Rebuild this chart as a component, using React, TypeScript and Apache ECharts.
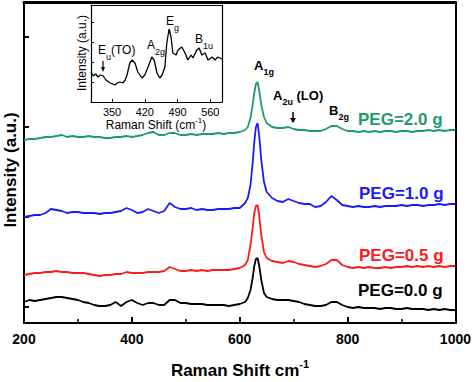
import React, { useEffect, useRef } from "react";
import * as echarts from "echarts";

const FONT = "Liberation Sans, Arial, sans-serif";

// Raman shift (cm-1) sample positions of the main spectra
const ramanShift = [
  200, 210, 220, 230, 240, 250, 260, 270, 280, 290, 300, 310, 320, 330, 340, 350, 360, 370, 380, 390, 400,
  410, 420, 430, 440, 450, 460, 470, 480, 490, 500, 510, 520, 530, 540, 550, 560, 570, 580, 590, 600,
  610, 615, 620, 624, 627, 630, 633, 636, 640, 645, 650,
  660, 670, 680, 690, 700, 710, 720, 730, 740, 750, 760, 770, 780, 790, 800, 810, 820, 830, 840, 850,
  860, 870, 880, 890, 900, 910, 920, 930, 940, 950, 960, 970, 980, 990, 1000,
];

// Intensities (a.u., stacked with offsets as in the figure)
const peg00 = [
  21, 23, 22, 23, 24, 25, 26, 26, 25, 24, 23, 21, 20, 18, 17, 17, 18, 21, 17, 21, 23,
  20, 18, 20, 20, 18, 18, 23, 23, 20, 20, 19, 19, 19, 18, 18, 18, 18, 17, 18, 19,
  21, 25, 33, 45, 57, 64, 65, 58, 43, 30, 26,
  24, 23, 23, 23, 22, 21, 19, 18, 17, 17, 18, 21, 21, 18, 16, 15, 16, 15, 15, 15,
  14, 15, 15, 14, 14, 15, 14, 14, 14, 13, 14, 13, 14, 13, 13,
];
const peg05 = [
  48, 49, 50, 50, 51, 51, 52, 51, 51, 50, 50, 50, 49, 48, 47, 48, 48, 49, 49, 51, 50,
  50, 50, 51, 51, 51, 52, 56, 54, 52, 52, 53, 52, 53, 52, 53, 53, 53, 53, 54, 55,
  58, 63, 78, 95, 110, 117, 118, 108, 88, 71, 65,
  62, 61, 60, 62, 61, 59, 58, 57, 56, 57, 59, 63, 63, 58, 56, 55, 56, 55, 56, 55,
  55, 56, 55, 56, 56, 57, 56, 57, 56, 57, 56, 57, 56, 57, 57,
];
const peg10 = [
  106, 107, 108, 108, 110, 114, 113, 112, 110, 111, 111, 110, 110, 110, 109, 110, 110, 111, 112, 115, 113,
  110, 111, 114, 112, 110, 112, 120, 116, 114, 114, 115, 113, 114, 113, 113, 114, 114, 114, 115, 115,
  120, 125, 138, 160, 181, 196, 200, 188, 163, 141, 131,
  125, 122, 121, 124, 122, 120, 119, 119, 116, 117, 121, 127, 123, 118, 117, 116, 117, 116, 116, 117,
  116, 117, 117, 117, 118, 117, 118, 118, 117, 118, 118, 119, 118, 119, 119,
];
const peg20 = [
  183, 184, 184, 185, 186, 186, 187, 188, 186, 187, 186, 186, 187, 186, 186, 185, 185, 186, 186, 187, 186,
  187, 188, 190, 191, 188, 188, 190, 190, 188, 188, 189, 188, 189, 189, 189, 190, 189, 190, 190, 191,
  193, 196, 205, 218, 230, 239, 241, 233, 218, 206, 200,
  196, 195, 195, 196, 194, 193, 193, 192, 192, 192, 194, 197, 197, 194, 192, 192, 191, 192, 191, 192,
  191, 192, 192, 191, 192, 192, 191, 192, 192, 193, 192, 193, 192, 193, 193,
];

const seriesNames = ["PEG=0.0 g", "PEG=0.5 g", "PEG=1.0 g", "PEG=2.0 g"];
const seriesColors = ["#000000", "#ff1a1a", "#1a1aff", "#1f9a6b"];

const mainTicks = [200, 400, 600, 800, 1000];
const mainYTicks = [16, 106, 196, 286];

// Inset spectrum
const insetShift = [
  305, 310, 315, 320, 325, 331, 337, 346, 356, 361, 367, 373, 378, 382, 388, 393, 399, 405, 414, 420,
  427, 435, 440, 446, 452, 457, 463, 467, 472, 476, 480, 487, 491, 499, 506, 512, 519, 523, 531, 536,
  542, 549, 555, 564, 570, 576, 585,
];
const insetIntensity = [
  30, 26, 28, 25, 27, 26, 22, 19, 17, 19, 20, 19, 22, 27, 39, 42, 39, 30, 24, 27,
  35, 45, 42, 29, 24, 27, 35, 59, 73, 65, 49, 47, 52, 55, 49, 42, 47, 44, 52, 54,
  47, 49, 42, 45, 42, 45, 43,
];
const insetTicks = [350, 420, 490, 560];
const insetYTicks = [20, 40, 60, 80];

export default function App() {
  const ref = useRef<HTMLDivElement>(null);

  useEffect(() => {
    const chart = echarts.init(ref.current!, null, { renderer: "svg" });
    const mainData = [peg00, peg05, peg10, peg20];

    const boldRich = (size: number, subSize: number, pad: number) => ({
      m: { fontSize: size, fontWeight: "bold", fontFamily: FONT, fill: "#000" },
      s: { fontSize: subSize, fontWeight: "bold", fontFamily: FONT, fill: "#000", padding: [pad, 0, 0, 0] },
    });
    const normRich = (size: number, subSize: number, pad: number) => ({
      m: { fontSize: size, fontFamily: FONT, fill: "#000" },
      s: { fontSize: subSize, fontFamily: FONT, fill: "#000", padding: [pad, 0, 0, 0] },
    });

    const txt = (x: number, y: number, text: string, rich: any) => ({
      type: "text",
      x,
      y,
      style: { text, rich, align: "left", verticalAlign: "middle" },
    });

    const option: any = {
      animation: false,
      grid: [
        { left: 24, top: 2, width: 434, height: 321 },
        { left: 91, top: 5, width: 131, height: 97 },
      ],
      xAxis: [
        {
          type: "value",
          gridIndex: 0,
          position: "bottom",
          min: mainTicks[0],
          max: mainTicks[mainTicks.length - 1],
          interval: 200,
          axisLine: { onZero: false, lineStyle: { color: "#000", width: 2 } },
          axisTick: { inside: true, length: 6, lineStyle: { color: "#000", width: 2 } },
          minorTick: { show: true, splitNumber: 2, length: 4, lineStyle: { color: "#000", width: 1.5 } },
          axisLabel: {
            fontSize: 14,
            fontWeight: "bold",
            color: "#000",
            margin: 9,
            fontFamily: FONT,
            formatter: (v: number) => String(v),
          },
          splitLine: { show: false },
        },
        {
          type: "value",
          gridIndex: 0,
          position: "top",
          min: 200,
          max: 1000,
          axisLine: { onZero: false, lineStyle: { color: "#000", width: 3 } },
          axisTick: { show: false },
          axisLabel: { show: false },
          splitLine: { show: false },
        },
        {
          type: "value",
          gridIndex: 1,
          position: "bottom",
          min: 305,
          max: 585,
          axisLine: { onZero: false, lineStyle: { color: "#000", width: 1.2 } },
          axisTick: { inside: true, length: 3, customValues: insetTicks, lineStyle: { color: "#000" } },
          axisLabel: { customValues: insetTicks, fontSize: 11, color: "#000", margin: 4, fontFamily: FONT },
          splitLine: { show: false },
        },
        {
          type: "value",
          gridIndex: 1,
          position: "top",
          min: 305,
          max: 585,
          axisLine: { onZero: false, lineStyle: { color: "#000", width: 1.2 } },
          axisTick: { show: false },
          axisLabel: { show: false },
          splitLine: { show: false },
        },
      ],
      yAxis: [
        {
          type: "value",
          gridIndex: 0,
          position: "left",
          min: 0,
          max: 321,
          axisLine: { show: true, onZero: false, lineStyle: { color: "#000", width: 2 } },
          axisTick: { show: true, inside: true, length: 5, customValues: mainYTicks, lineStyle: { color: "#000", width: 2 } },
          axisLabel: { show: false },
          splitLine: { show: false },
        },
        {
          type: "value",
          gridIndex: 0,
          position: "right",
          min: 0,
          max: 321,
          axisLine: { show: true, onZero: false, lineStyle: { color: "#000", width: 2 } },
          axisTick: { show: false },
          axisLabel: { show: false },
          splitLine: { show: false },
        },
        {
          type: "value",
          gridIndex: 1,
          position: "left",
          min: 0,
          max: 97,
          axisLine: { show: true, onZero: false, lineStyle: { color: "#000", width: 1.2 } },
          axisTick: { show: true, inside: true, length: 3, customValues: insetYTicks, lineStyle: { color: "#000" } },
          axisLabel: { show: false },
          splitLine: { show: false },
        },
        {
          type: "value",
          gridIndex: 1,
          position: "right",
          min: 0,
          max: 97,
          axisLine: { show: true, onZero: false, lineStyle: { color: "#000", width: 1.2 } },
          axisTick: { show: false },
          axisLabel: { show: false },
          splitLine: { show: false },
        },
      ],
      series: [
        ...mainData.map((arr, k) => ({
          name: seriesNames[k],
          type: "line",
          xAxisIndex: 0,
          yAxisIndex: 0,
          showSymbol: false,
          symbol: "none",
          lineStyle: { color: seriesColors[k], width: 1.8 },
          data: ramanShift.map((x, i) => [x, arr[i]]),
        })),
        {
          name: "inset",
          type: "line",
          xAxisIndex: 2,
          yAxisIndex: 2,
          showSymbol: false,
          symbol: "none",
          lineStyle: { color: "#000", width: 1.3 },
          data: insetShift.map((x, i) => [x, insetIntensity[i]]),
        },
      ],
      graphic: [
        {
          type: "text",
          x: 10,
          y: 170,
          rotation: Math.PI / 2,
          style: { text: "Intensity (a.u.)", font: `bold 17px ${FONT}`, fill: "#000", align: "center", verticalAlign: "middle" },
        },
        {
          type: "text",
          x: 240,
          y: 370,
          style: {
            text: "{a|Raman Shift cm}{s|-1}",
            rich: {
              a: { fontSize: 17, fontWeight: "bold", fontFamily: FONT, fill: "#000" },
              s: { fontSize: 11, fontWeight: "bold", fontFamily: FONT, fill: "#000", padding: [0, 0, 12, 0] },
            },
            align: "center",
            verticalAlign: "middle",
          },
        },
        // series labels
        ...[
          [358, 290],
          [359, 255],
          [359, 193],
          [358, 119],
        ].map((p, k) => ({
          type: "text",
          x: p[0],
          y: p[1],
          style: {
            text: seriesNames[k],
            font: `bold 17px ${FONT}`,
            fill: seriesColors[k],
            align: "left",
            verticalAlign: "middle",
          },
        })),
        // main annotations
        txt(254, 65, "{m|A}{s|1g}", boldRich(13, 9, 13)),
        txt(273, 95, "{m|A}{s|2u}{m| (LO)}", boldRich(13, 9, 13)),
        txt(329, 110, "{m|B}{s|2g}", boldRich(13, 9, 13)),
        { type: "line", shape: { x1: 293, y1: 112, x2: 293, y2: 119 }, style: { stroke: "#000", lineWidth: 1.5 } },
        { type: "polygon", shape: { points: [[290, 118], [296, 118], [293, 123]] }, style: { fill: "#000" } },
        // inset annotations
        txt(98, 50, "{m|E}{s|u}{m|(TO)}", normRich(12, 9, 13)),
        txt(147, 45, "{m|A}{s|2g}", normRich(12, 9, 13)),
        txt(166, 21, "{m|E}{s|g}", normRich(12, 9, 13)),
        txt(195, 39, "{m|B}{s|1u}", normRich(12, 9, 13)),
        { type: "line", shape: { x1: 103, y1: 61, x2: 103, y2: 68 }, style: { stroke: "#000", lineWidth: 1.2 } },
        { type: "polygon", shape: { points: [[101, 67], [105, 67], [103, 72]] }, style: { fill: "#000" } },
        // inset axis names
        {
          type: "text",
          x: 156,
          y: 125,
          style: {
            text: "{a|Raman Shift (cm}{s|-1}{a|)}",
            rich: {
              a: { fontSize: 12, fontFamily: FONT, fill: "#000" },
              s: { fontSize: 8, fontFamily: FONT, fill: "#000", padding: [0, 0, 10, 0] },
            },
            align: "center",
            verticalAlign: "middle",
          },
        },
        {
          type: "text",
          x: 82,
          y: 53,
          rotation: Math.PI / 2,
          style: { text: "Intensity (a.u.)", font: `12px ${FONT}`, fill: "#000", align: "center", verticalAlign: "middle" },
        },
      ],
    };

    chart.setOption(option);
    return () => chart.dispose();
  }, []);

  return <div ref={ref} style={{ position: "absolute", left: 0, top: 0, width: 474, height: 382 }} />;
}
